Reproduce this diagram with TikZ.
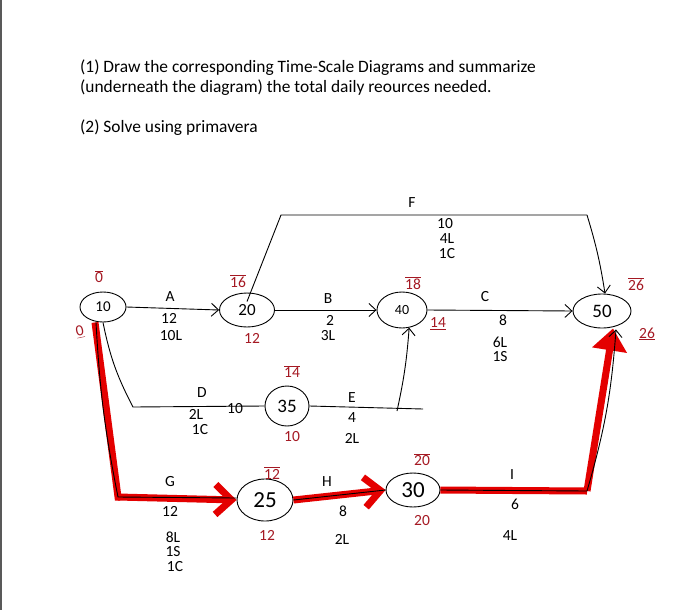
\documentclass[tikz,border=0pt]{standalone}
\usepackage{fontspec}
\setmainfont{Carlito}
\usetikzlibrary{arrows.meta,shapes.geometric,calc}
\definecolor{numred}{RGB}{165,25,35}
\definecolor{pathred}{RGB}{228,0,0}
\newcommand\obar[1]{$\overline{\mbox{#1}}$}
\newcommand\undl[1]{\underline{#1}}
\begin{document}
\begin{tikzpicture}[x=1pt,y=-1pt,
  head/.style={anchor=west, inner sep=0pt, font=\fontsize{17.4}{19}\selectfont},
  ev/.style={draw, ellipse, line width=0.9pt, inner sep=0pt},
  lab/.style={inner sep=0pt, font=\fontsize{15.5}{15.5}\selectfont},
  rlab/.style={lab, text=numred},
  plain/.style={line width=0.9pt},
  conn/.style={line width=0.9pt, -{Straight Barb[length=7pt,width=13pt]}},
  crit/.style={line width=7pt, draw=pathred},
  critbarb/.style={crit, -{Straight Barb[length=16pt,width=30pt]}},
  crittri/.style={crit, -{Triangle[length=22pt,width=34pt]}}
]
\useasboundingbox (0,0) rectangle (700,610);
\fill[white] (0,0) rectangle (700,610);
\draw[black!65, line width=1.6pt] (1,0) -- (1,610);

% heading
\node[head] (h1) at (80,68) {(1) Draw the corresponding Time-Scale Diagrams and summarize};
\node[head] (h2) at (80,88) {(underneath the diagram) the total daily reources needed.};
\node[head] (h3) at (80,128) {(2) Solve using primavera};

% events
\node[ev, minimum width=46pt, minimum height=30pt, font=\fontsize{15}{15}\selectfont] (n10) at (103,307) {10};
\node[ev, minimum width=55pt, minimum height=34pt, font=\fontsize{17}{17}\selectfont] (n20) at (247,310) {20};
\node[ev, minimum width=50pt, minimum height=36pt, font=\fontsize{14}{14}\selectfont] (n40) at (402,310) {40};
\node[ev, minimum width=58pt, minimum height=34pt, font=\fontsize{19}{19}\selectfont] (n50) at (602,311) {50};
\node[ev, minimum width=44pt, minimum height=40pt, font=\fontsize{19}{19}\selectfont] (n35) at (287,406) {35};
\node[ev, minimum width=56pt, minimum height=42pt, font=\fontsize{23}{23}\selectfont] (n25) at (265,500) {25};
\node[ev, minimum width=54pt, minimum height=34pt, font=\fontsize{23}{23}\selectfont] (n30) at (413,490) {30};

% helper points
\coordinate (fA) at (281,215);
\coordinate (fB) at (587,215);
\coordinate (dC) at (133,407);
\coordinate (eEnd) at (423,409);
\coordinate (eV) at (397,411);
\coordinate (gC) at (118,497);
\coordinate (iC) at (587,491);

% critical path (red)
\draw[crit] ([xshift=-8pt]n10.south) -- (gC) -- ([xshift=2pt]gC);
\draw[critbarb] (gC) -- (n25.west);
\draw[critbarb] (n25.east) -- (n30.west);
\draw[crit] (n30.east) -- (iC);
\draw[crittri] (iC) -- ([xshift=11pt]n50.south);
% thin black lines under the red
\draw[plain] ([xshift=-7pt]n10.south) to[bend right=4] (gC) -- ([yshift=2pt]n25.west);
\draw[plain] (n25.east) -- (n30.west);
\draw[plain] (n30.east) -- (iC);
\draw[conn] (iC) to[bend right=6] ([xshift=14pt,yshift=-1pt]n50.south);

% other activities
\draw[conn] (n10.east) -- (n20.west);
\draw[conn] (n20.east) -- (n40.west);
\draw[conn] (n40.east) -- (n50.west);
\draw[plain] ([yshift=-9pt]n20.north) -- (fA) -- (fB);
\draw[conn] (fB) to[bend left=4] ([xshift=3pt]n50.north);
\draw[plain] (n10.south) to[bend right=8] (dC) -- (n35.west);
\draw[plain] (n35.east) -- (eEnd);
\draw[conn] (eV) to[bend right=4] (n40.-68);

% labels: 10
\node[rlab] (l10a) at (99,277) {\obar{0}};
\node[rlab, rotate=12] (l10b) at (80,332) {\undl{0}};
% A
\node[lab] (lA) at (170,297) {A};
\node[lab] (lA2) at (169,318) {12};
\node[lab] (lA3) at (171,336) {10L};
% 20
\node[rlab] (l20a) at (238,281) {\obar{16}};
\node[rlab] (l20b) at (252,338) {12};
% B
\node[lab] (lB) at (328,299) {B};
\node[lab] (lB2) at (330,320) {2};
\node[lab] (lB3) at (328,336) {3L};
% 40
\node[rlab] (l40a) at (413,283) {\obar{18}};
\node[rlab] (l40b) at (438,324) {\undl{14}};
% F
\node[lab] (lF) at (412,203) {F};
\node[lab] (lF2) at (445,224) {10};
\node[lab] (lF3) at (447,239) {4L};
\node[lab] (lF4) at (447,254) {1C};
% C
\node[lab] (lC) at (485,297) {C};
\node[lab] (lC2) at (503,320) {8};
\node[lab] (lC3) at (500,342) {6L};
\node[lab] (lC4) at (500,357) {1S};
% 50
\node[rlab] (l50a) at (636,284) {\obar{26}};
\node[rlab] (l50b) at (647,334) {\undl{26}};
% 35
\node[rlab] (l35a) at (292,372) {\obar{14}};
\node[rlab] (l35b) at (292,437) {10};
% D
\node[lab] (lD) at (202,393) {D};
\node[lab] (lD2) at (196,414) {2L};
\node[lab] (lD3) at (200,430) {1C};
\node[lab] (lD4) at (235,409) {10};
% E
\node[lab] (lE) at (352,398) {E};
\node[lab] (lE2) at (352,418) {4};
\node[lab] (lE3) at (352,438) {2L};
% G
\node[lab] (lG) at (170,482) {G};
\node[lab] (lG2) at (170,511) {12};
\node[lab] (lG3) at (173,537) {8L};
\node[lab] (lG4) at (173,552) {1S};
\node[lab] (lG5) at (175,567) {1C};
% 25
\node[rlab] (l25a) at (272,473) {\obar{12}};
\node[rlab] (l25b) at (267,535) {12};
% H
\node[lab] (lH) at (327,482) {H};
\node[lab] (lH2) at (343,511) {8};
\node[lab] (lH3) at (342,539) {2L};
% 30
\node[rlab] (l30a) at (422,460) {\obar{20}};
\node[rlab] (l30b) at (422,521) {20};
% I
\node[lab] (lI) at (512,475) {I};
\node[lab] (lI2) at (515,504) {6};
\node[lab] (lI3) at (510,536) {4L};
\end{tikzpicture}
\end{document}
